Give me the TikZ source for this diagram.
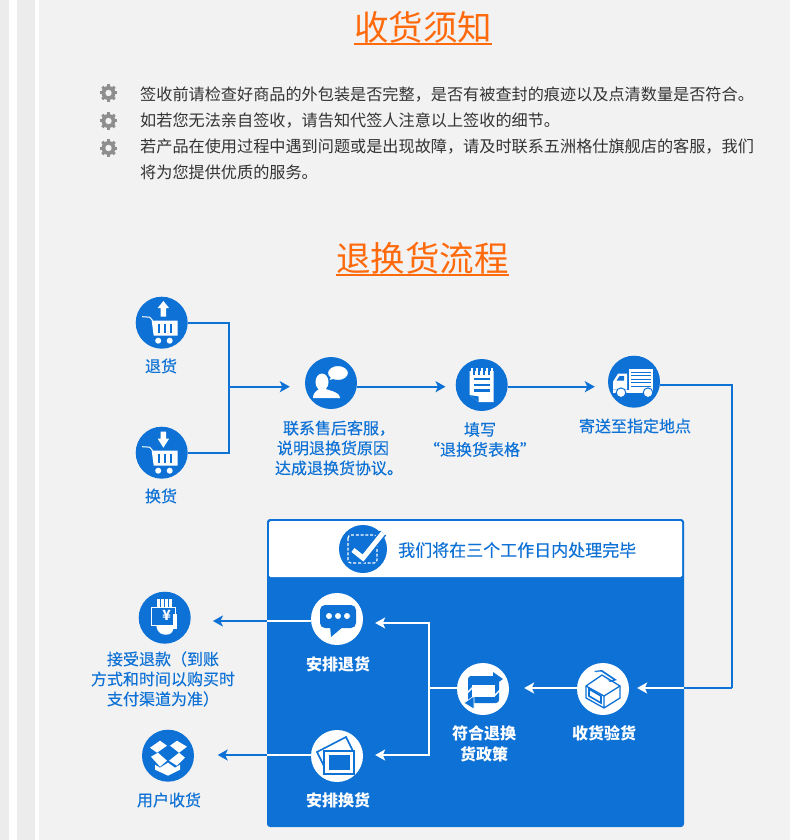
\documentclass[tikz,border=0pt]{standalone}
\usepackage{fontspec}
\setmainfont{Noto Sans CJK SC}
\newfontfamily\labelfont[FakeBold=0.25]{Noto Sans CJK SC}
\usetikzlibrary{arrows.meta}
\definecolor{flowblue}{HTML}{0D71D5}
\definecolor{pagegray}{HTML}{F2F2F2}
\definecolor{stripgray}{HTML}{ECECEC}
\definecolor{titleorange}{HTML}{FF6A0D}
\definecolor{bodygray}{HTML}{333333}
\definecolor{geargray}{HTML}{8E8E8E}
\tikzset{
    titletext/.style={inner sep=0pt,text=titleorange,font=\fontsize{34.5}{40}\selectfont},
    bodytext/.style={anchor=west,inner sep=0pt,text=bodygray,font=\fontsize{16.15}{20}\selectfont},
    bluetext/.style={inner sep=0pt,align=center,text=flowblue,font=\labelfont\fontsize{16}{20}\selectfont},
    whitetext/.style={inner sep=0pt,align=center,text=white,font=\bfseries\fontsize{16}{21}\selectfont},
    blueicon/.style={circle,fill=flowblue,minimum size=52pt,inner sep=0pt},
    whiteicon/.style={circle,fill=white,minimum size=52pt,inner sep=0pt},
    flowline/.style={line width=2pt,flowblue},
    flowarrow/.style={flowline,-{Stealth[length=10pt,width=11pt,inset=2.5pt]}},
    whiteline/.style={line width=2pt,white},
    whitearrow/.style={whiteline,-{Stealth[length=10pt,width=11pt,inset=2.5pt]}}
}
\begin{document}
\begin{tikzpicture}[x=1pt,y=-1pt]
    \useasboundingbox (0,0) rectangle (790,840);
    \fill[pagegray] (0,0) rectangle (790,840);
    \fill[stripgray] (0,0) rectangle (9,840);
    \fill[white] (9,0) rectangle (17,840);
    \fill[stripgray] (17,0) rectangle (35,840);
    \fill[white] (35,0) rectangle (39,840);

    \node[titletext] (notetitle) at (423,27) {收货须知};
    \draw[titleorange,line width=1.2pt] (notetitle.west |- 0,44) -- (notetitle.east |- 0,44);
    \node[titletext] (flowtitle) at (422.5,258) {退换货流程};
    \draw[titleorange,line width=1.2pt] (flowtitle.west |- 0,275) -- (flowtitle.east |- 0,275);

    \foreach \y in {93,121,148} {
        \foreach \a in {0,45,...,315}
            \draw[geargray,line width=3pt] (108.5,\y) ++(\a:8.8) -- ++(\a+180:3);
        \fill[geargray] (108.5,\y) circle (7);
        \fill[pagegray] (108.5,\y) circle (3.2);
    }
    \node[bodytext] (noteone) at (140,94.5) {签收前请检查好商品的外包装是否完整，是否有被查封的痕迹以及点清数量是否符合。};
    \node[bodytext] (notetwo) at (140,121) {如若您无法亲自签收，请告知代签人注意以上签收的细节。};
    \node[bodytext] (notethree) at (140,147) {若产品在使用过程中遇到问题或是出现故障，请及时联系五洲格仕旗舰店的客服，我们};
    \node[bodytext] (notefour) at (140,172.5) {将为您提供优质的服务。};

    \fill[flowblue,rounded corners=3pt] (267,519) rectangle (684,827);
    \fill[white,rounded corners=1.5pt] (269,521) rectangle (682,577);

    \node[blueicon] (returngoods) at (161.7,322.7) {};
    \node[blueicon] (swapgoods) at (161.7,452.7) {};
    \node[blueicon] (contact) at (331,383) {};
    \node[blueicon] (fillform) at (481.7,385) {};
    \node[blueicon] (shipgoods) at (634,381.7) {};
    \node[blueicon,minimum size=48pt] (promise) at (363,549) {};
    \node[whiteicon] (sendback) at (337,619) {};
    \node[whiteicon] (policy) at (483,689) {};
    \node[whiteicon] (inspect) at (603,689) {};
    \node[whiteicon] (sendswap) at (337,756) {};
    \node[blueicon] (refund) at (164.7,617.7) {};
    \node[blueicon] (received) at (168,755.7) {};

    \node[bluetext] (returnlabel) at (161,366) {退货};
    \node[bluetext] (swaplabel) at (161,496) {换货};
    \node[bluetext] (contactlabel) at (339,448) {联系售后客服，\\说明退换货原因\hbox to 12pt{}\\达成退换货协议。};
    \node[bluetext] (filllabel) at (480,439.5) {填写\\“退换货表格”};
    \node[bluetext] (shiplabel) at (635,426) {寄送至指定地点};
    \node[bluetext,anchor=west,font=\labelfont\fontsize{17}{20}\selectfont] (promiselabel) at (398,550) {我们将在三个工作日内处理完毕};
    \node[whitetext] (sendbacklabel) at (338,664) {安排退货};
    \node[whitetext] (policylabel) at (484,743.5) {符合退换\\货政策};
    \node[whitetext] (inspectlabel) at (604,733) {收货验货};
    \node[whitetext] (sendswaplabel) at (338,800) {安排换货};
    \node[bluetext] (refundlabel) at (163,679) {接受退款（到账\\方式和时间以购买时\\支付渠道为准）};
    \node[bluetext] (receivedlabel) at (169,800) {用户收货};

    \coordinate (joinleft) at (229,386.7);
    \coordinate (joinright) at (732,688);
    \coordinate (joinpolicy) at (429,688);
    \coordinate (edgeright) at (684,688);
    \coordinate (edgeone) at (267,621);
    \coordinate (edgetwo) at (267,755);

    \draw[flowline] (returngoods.east) -| (joinleft);
    \draw[flowline] (swapgoods.east) -- (joinleft |- swapgoods) -- (joinleft);
    \draw[flowarrow,shorten >=15pt] (joinleft) -- (contact.west |- joinleft);
    \draw[flowarrow,shorten >=10pt] (contact.east |- 0,386.7) -- (fillform.west |- 0,386.7);
    \draw[flowarrow,shorten >=13pt] (fillform.east |- 0,386.7) -- (shipgoods.west |- 0,386.7);
    \draw[flowline] (shipgoods.east |- 0,384.5) -| (joinright);
    \draw[flowline] (joinright) -- (edgeright);
    \draw[whitearrow,shorten >=8pt] (edgeright) -- (inspect.east |- edgeright);
    \draw[whitearrow,shorten >=15pt] (inspect.west |- joinright) -- (policy.east |- joinright);
    \draw[whiteline] (policy.west |- joinpolicy) -- (joinpolicy);
    \draw[whitearrow,shorten >=12pt] (joinpolicy) |- (sendback.east |- 0,623);
    \draw[whitearrow,shorten >=12pt] (joinpolicy) |- (sendswap.east |- 0,755);
    \draw[whiteline] (sendback.west |- edgeone) -- (edgeone);
    \draw[flowarrow,shorten >=22pt] (edgeone) -- (refund.east |- edgeone);
    \draw[whiteline] (sendswap.west |- edgetwo) -- (edgetwo);
    \draw[flowarrow,shorten >=23.5pt] (edgetwo) -- (received.east |- edgetwo);

    \foreach \n in {returngoods,swapgoods} {
        \begin{scope}[shift={(\n)}]
            \draw[white,line width=1pt] (-19.5,-6) -- (-12,-5.5) -- (-9,-2);
            \fill[white] (-10,-2) -- (16,-2) -- (16,13) -- (-8,13) -- cycle;
            \foreach \x in {-2.5,3.5,9.5}
                \fill[flowblue] (\x-1.2,1) rectangle (\x+1.2,10);
            \fill[white] (-3.5,18) circle (3) (8,18) circle (3);
        \end{scope}
    }
    \fill[white] ([shift={(1.7,-21.7)}]returngoods.center) -- ++(5.7,7) -- ++(-3,0) -- ++(0,8.5) -- ++(-5.4,0) -- ++(0,-8.5) -- ++(-3,0) -- cycle;
    \fill[white] ([shift={(1.7,-5)}]swapgoods.center) -- ++(5.7,-9) -- ++(-3,0) -- ++(0,-7) -- ++(-5.4,0) -- ++(0,7) -- ++(-3,0) -- cycle;

    \begin{scope}[shift={(contact)}]
        \fill[white] (-9,-1) ellipse (6.5 and 8.5);
        \fill[white] (-18,15) .. controls (-18,8) and (-12,7) .. (-11,5) -- (-7,5) .. controls (-6,7) and (9,8) .. (9,15) -- cycle;
        \fill[white,draw=flowblue,line width=1pt] (7,-10) ellipse (10.5 and 7.5);
        \fill[white] (0,-6) -- (-1.5,-3) -- (4,-4.5) -- cycle;
    \end{scope}

    \begin{scope}[shift={(fillform)}]
        \fill[white] (-12,-14) -- (12,-14) -- (12,17) -- (-3,17) -- (-12,10) -- cycle;
        \foreach \x in {-10,-5,0,5,10}
            \fill[white] (\x-1.2,-17) rectangle (\x+1.2,-13);
        \foreach \x in {-7.5,-2.5,2.5,7.5}
            \fill[flowblue] (\x-.8,-14) rectangle (\x+.8,-10);
        \foreach \y in {-6,0,5.5}
            \fill[flowblue] (-8,\y-1.2) rectangle (8,\y+1.2);
        \fill[flowblue] (-3,17) -- (-12,10) -- (-3,11.5) -- cycle;
    \end{scope}

    \begin{scope}[shift={(shipgoods)}]
        \fill[white] (-5,-13) rectangle (19,8);
        \foreach \y in {-10,-6.5,-3,.5,4}
            \fill[flowblue] (-3,\y) rectangle (17,\y+1.2);
        \fill[white] (-21,8) -- (-21,0) -- (-16,-8) -- (-7,-8) -- (-7,8) -- cycle;
        \fill[flowblue] (-17.5,-1) -- (-14.5,-5.5) -- (-10,-5.5) -- (-10,-1) -- cycle;
        \fill[white] (-21,8) rectangle (19,11);
        \fill[white,draw=flowblue,line width=1pt] (-13,11) circle (4.8) (14,11) circle (4.8);
    \end{scope}

    \begin{scope}[shift={(promise)}]
        \draw[white,line width=1.2pt,dash pattern=on 3pt off 1.8pt,rounded corners=3pt] (-15,-14) rectangle (14,14);
        \draw[flowblue,line width=8pt] (-10,1) -- (0,9) -- (20,-16);
        \draw[white,line width=5pt] (-10,1) -- (0,9) -- (20,-16);
    \end{scope}

    \begin{scope}[shift={(sendback)}]
        \fill[flowblue,rounded corners=5pt] (-17,-14) rectangle (19,9);
        \fill[flowblue] (-7,7) -- (-6,18) -- (7,7) -- cycle;
        \foreach \x in {-8,1,10}
            \fill[white] (\x,-3) circle (3);
    \end{scope}

    \begin{scope}[shift={(policy)}]
        \fill[flowblue,rounded corners=3pt] (-15,-13) rectangle (16,14);
        \fill[flowblue] (20,-10) -- (10,-17) -- (10,-3) -- cycle;
        \fill[flowblue,draw=white,line width=.6pt] (-19,14) -- (-9,7) -- (-9,20) -- cycle;
        \fill[white] (-11,-4) rectangle (12,8);
        \draw[white,line width=1.4pt] (-18,6) -- (-10,-2);
        \draw[white,line width=1.4pt] (11,7) -- (19,-1);
    \end{scope}

    \begin{scope}[shift={(inspect)}]
        \fill[flowblue] (-1,-14) -- (-9,-18) -- (-1,-19) -- (14,-9) -- (7,-7) -- cycle;
        \fill[white] (-7,-17) -- (-2,-17.5) -- (10,-9.5) -- (6,-8.5) -- cycle;
        \draw[flowblue,line width=1.3pt,line join=round] (-17,-3) -- (-1,-14) -- (17,-3) -- (1,7) -- cycle;
        \draw[flowblue,line width=1.3pt,line join=round] (-17,-3) -- (-17,9) -- (1,19) -- (17,9) -- (17,-3) (1,7) -- (1,19);
        \draw[flowblue,line width=1.6pt] (-14,0) -- (-2,7) -- (-2,14) -- (-14,7) -- cycle;
    \end{scope}

    \begin{scope}[shift={(sendswap)}]
        \draw[flowblue,fill=white,line width=1.6pt] (-20,-4) -- (9,-19) -- (17,-3) -- (-12,12) -- cycle;
        \draw[flowblue,fill=white,line width=1.6pt] (-13,-5) rectangle (17,18);
        \fill[flowblue] (-8,-1) rectangle (13,14);
    \end{scope}

    \begin{scope}[shift={(refund)}]
        \foreach \x in {-6,-2,2,6}
            \fill[white] (\x-1.5,-19) rectangle (\x+1.5,-10);
        \fill[white] (-8,7) -- (-8,10) .. controls (-7,15) and (-3,17) .. (1,17) .. controls (6,17) and (8,15) .. (9,10) -- (9,7) -- cycle;
        \draw[white,fill=flowblue,line width=1pt] (-13,-10) rectangle (11,8);
        \fill[white] (8.5,-4) rectangle (12,11);
        \node[text=white,inner sep=0pt,font=\bfseries\fontsize{14}{14}\selectfont] (refundyen) at (2,-2) {¥};
    \end{scope}

    \begin{scope}[shift={(received)}]
        \fill[white] (-18,-8) -- (-8,-15) -- (-1,-10) -- (-11,-3) -- cycle;
        \fill[white] (2,-10) -- (9,-15) -- (19,-9) -- (11,-3) -- cycle;
        \fill[white] (-17,1) -- (-10,-3) -- (-1,5) -- (-8,11) -- cycle;
        \fill[white] (1,5) -- (11,-3) -- (17,2) -- (9,10) -- cycle;
        \fill[white] (-13,9) -- (-8,12) -- (0,7) -- (7,12) -- (12,9) -- (12,14) -- (0,20) -- (-13,14) -- cycle;
    \end{scope}
\end{tikzpicture}
\end{document}
